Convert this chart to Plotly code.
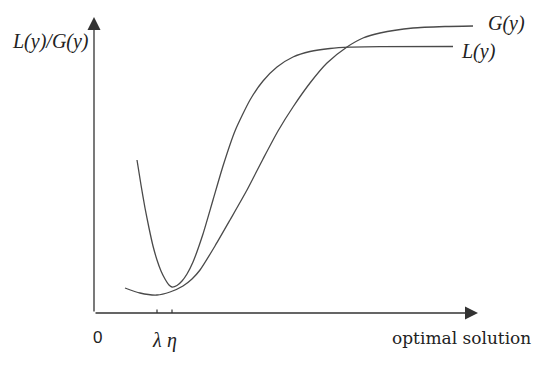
import plotly.graph_objects as go

# Curve G(y)  (arbitrary units)
g_x = [31, 46, 63, 76, 89, 98, 106, 121, 136, 153, 169, 184, 199, 216, 233, 253, 269, 286, 319, 351, 379]
g_y = [25, 20, 18, 21, 27, 34, 43, 67, 93, 123, 154, 182, 206, 230, 250, 266, 275, 280, 285, 286.5, 287]

# Curve L(y)
l_x = [43, 47, 51, 55, 59, 63, 67, 71, 75, 78, 83, 88, 93, 99, 109, 119, 129, 141, 156, 169, 183, 199, 216, 236, 256, 286, 359]
l_y = [153, 128, 105, 85, 67, 53, 42, 34, 28, 26, 27.5, 32, 39, 51, 79, 113, 147, 182, 213, 232, 246, 256, 261.5, 264.5, 265.8, 266.3, 266.5]

# Tick marks on the x axis
tick_x = [63, 78]
tick_labels = ["λ", "η"]

line_col = "#4a4a4a"
serif = "Liberation Serif"
XMAX, YMAX = 384.0, 296.0

fig = go.Figure()
for xs, ys in ((g_x, g_y), (l_x, l_y)):
    fig.add_trace(go.Scatter(x=xs, y=ys, mode="lines",
                             line=dict(color=line_col, width=1.3, shape="spline", smoothing=0.6),
                             hoverinfo="skip", showlegend=False))

anns = []
# axes with arrows
anns.append(dict(x=XMAX, y=0, ax=0, ay=0, xref="x", yref="y", axref="x", ayref="y",
                 showarrow=True, arrowhead=2, arrowsize=2.0, arrowwidth=1.3,
                 arrowcolor="#333", text=""))
anns.append(dict(x=0, y=YMAX, ax=0, ay=0, xref="x", yref="y", axref="x", ayref="y",
                 showarrow=True, arrowhead=2, arrowsize=2.0, arrowwidth=1.3,
                 arrowcolor="#333", text=""))

def txt(x, y, s, size=16, family=serif, italic=True):
    anns.append(dict(x=x / XMAX, y=y / YMAX, xref="paper", yref="paper", text=s, showarrow=False,
                     font=dict(family=family, size=size, color="#222",
                               style="italic" if italic else "normal"),
                     xanchor="center", yanchor="middle"))

txt(-44, 271, "L(y)/G(y)", size=20)
txt(412, 290, "G(y)", size=20)
txt(384, 261, "L(y)", size=20)
txt(3, -24, "0", size=17, family="Liberation Sans", italic=False)
for tx, tl in zip(tick_x, tick_labels):
    txt(tx, -27, tl, size=20)
txt(367, -25, "optimal solution", size=17, family="DejaVu Serif", italic=False)

shapes = []
for tx in tick_x:
    shapes.append(dict(type="line", xref="x", yref="y", x0=tx, x1=tx, y0=0, y1=3.5,
                       line=dict(color="#333", width=1.2)))

# page body has an 8px margin, so offsets are compensated
fig.update_layout(
    width=550, height=365,
    margin=dict(l=86, r=80, t=9, b=60),
    plot_bgcolor="white", paper_bgcolor="white",
    xaxis=dict(range=[0, XMAX], visible=False, fixedrange=True),
    yaxis=dict(range=[0, YMAX], visible=False, fixedrange=True),
    annotations=anns, shapes=shapes,
)

fig.write_html("out.html")
